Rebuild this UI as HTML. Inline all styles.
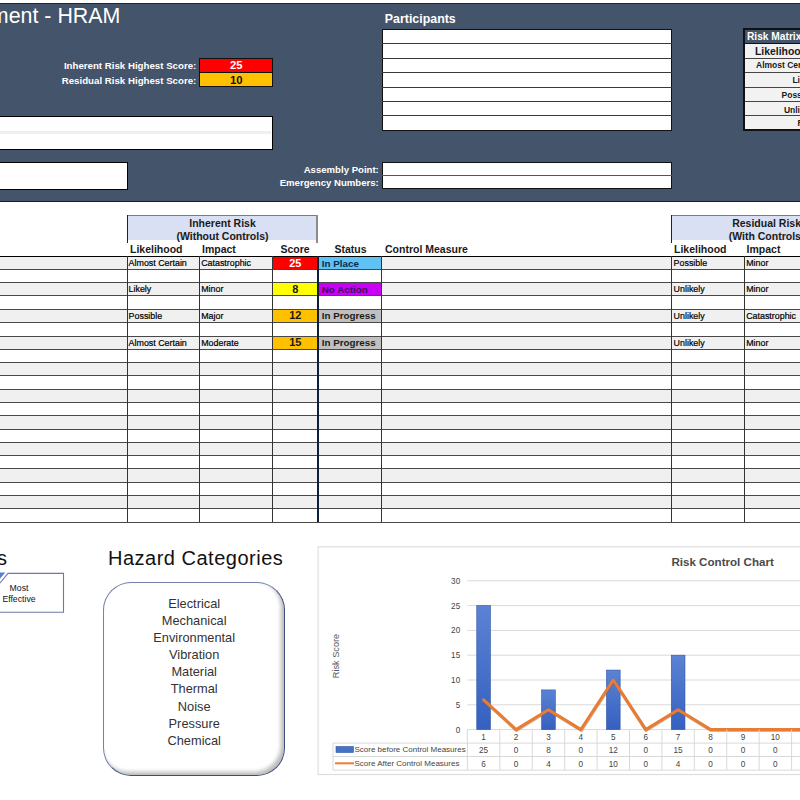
<!DOCTYPE html>
<html><head><meta charset="utf-8"><style>
html,body{margin:0;padding:0;}
body{width:800px;height:800px;overflow:hidden;position:relative;background:#fff;font-family:'Liberation Sans',sans-serif;}
div{font-family:'Liberation Sans',sans-serif;}
</style></head><body>
<div style="position:absolute;left:0px;top:3px;width:800px;height:198px;background:#44546a;border-top:1px solid #1c2838;box-sizing:border-box;"></div>
<div style="position:absolute;left:0px;top:200.5px;width:800px;height:1.6px;background:#0b1f35;"></div>
<div style="position:absolute;right:679.6px;top:5.83px;font-size:21.4px;line-height:21.4px;font-weight:400;color:#fff;white-space:nowrap;">Health &amp; Safety Risk Assessment - HRAM</div>
<div style="position:absolute;right:603.7px;top:61.14px;font-size:9.7px;line-height:9.7px;font-weight:700;color:#fff;white-space:nowrap;">Inherent Risk Highest Score:</div>
<div style="position:absolute;right:603.7px;top:76.14px;font-size:9.7px;line-height:9.7px;font-weight:700;color:#fff;white-space:nowrap;">Residual Risk Highest Score:</div>
<div style="position:absolute;left:199px;top:58px;width:74px;height:14.5px;background:#ff0000;border:1px solid #111;box-sizing:border-box;"></div>
<div style="position:absolute;left:199px;top:72.5px;width:74px;height:14.8px;background:#ffc000;border:1px solid #111;border-top:none;box-sizing:border-box;"></div>
<div style="position:absolute;left:206.3px;width:60px;text-align:center;top:59.52px;font-size:11.3px;line-height:11.3px;font-weight:700;color:#fff;white-space:nowrap;">25</div>
<div style="position:absolute;left:206.3px;width:60px;text-align:center;top:74.62px;font-size:11.3px;line-height:11.3px;font-weight:700;color:#111;white-space:nowrap;">10</div>
<div style="position:absolute;left:-2px;top:115.5px;width:274.5px;height:34px;background:#fff;border:1px solid #000;box-sizing:border-box;"></div>
<div style="position:absolute;left:0px;top:130.5px;width:271px;height:3.5px;background:#efefef;"></div>
<div style="position:absolute;left:-2px;top:162px;width:129.5px;height:27.5px;background:#fff;border:1px solid #000;box-sizing:border-box;"></div>
<div style="position:absolute;left:384.8px;top:12.70px;font-size:12.4px;line-height:12.4px;font-weight:700;color:#fff;white-space:nowrap;">Participants</div>
<div style="position:absolute;left:381.5px;top:28.7px;width:290.5px;height:102.3px;background:#fff;border:1px solid #111;box-sizing:border-box;"></div>
<div style="position:absolute;left:381.5px;top:42.7px;width:290.5px;height:1px;background:#3a3a3a;"></div>
<div style="position:absolute;left:381.5px;top:57.7px;width:290.5px;height:1px;background:#3a3a3a;"></div>
<div style="position:absolute;left:381.5px;top:72.0px;width:290.5px;height:1px;background:#3a3a3a;"></div>
<div style="position:absolute;left:381.5px;top:87.0px;width:290.5px;height:1px;background:#3a3a3a;"></div>
<div style="position:absolute;left:381.5px;top:100.9px;width:290.5px;height:1px;background:#3a3a3a;"></div>
<div style="position:absolute;left:381.5px;top:115.0px;width:290.5px;height:1px;background:#3a3a3a;"></div>
<div style="position:absolute;right:421.2px;top:164.83px;font-size:9.6px;line-height:9.6px;font-weight:700;color:#fff;white-space:nowrap;">Assembly Point:</div>
<div style="position:absolute;right:421.2px;top:178.13px;font-size:9.6px;line-height:9.6px;font-weight:700;color:#fff;white-space:nowrap;">Emergency Numbers:</div>
<div style="position:absolute;left:381.5px;top:162.3px;width:290.5px;height:27px;background:#fff;border:1px solid #111;box-sizing:border-box;"></div>
<div style="position:absolute;left:381.5px;top:175px;width:290.5px;height:1px;background:#555;"></div>
<div style="position:absolute;left:743px;top:28px;width:80px;height:102.5px;background:#f2f2f2;border:2px solid #111;border-right:none;box-sizing:border-box;"></div>
<div style="position:absolute;left:745px;top:30px;width:80px;height:13px;background:#44546a;"></div>
<div style="position:absolute;left:745px;top:42.5px;width:80px;height:1.6px;background:#111;"></div>
<div style="position:absolute;left:747px;top:32.13px;font-size:10.2px;line-height:10.2px;font-weight:700;color:#fff;white-space:nowrap;">Risk Matrix</div>
<div style="position:absolute;left:755px;top:46.56px;font-size:10.4px;line-height:10.4px;font-weight:700;color:#1a1a1a;white-space:nowrap;">Likelihood</div>
<div style="position:absolute;left:745px;top:57.7px;width:80px;height:1.2px;background:#444;"></div>
<div style="position:absolute;left:745px;top:72.0px;width:80px;height:1.2px;background:#444;"></div>
<div style="position:absolute;left:745px;top:86.6px;width:80px;height:1.2px;background:#444;"></div>
<div style="position:absolute;left:745px;top:100.6px;width:80px;height:1.2px;background:#444;"></div>
<div style="position:absolute;left:745px;top:114.8px;width:80px;height:1.2px;background:#444;"></div>
<div style="position:absolute;right:-16.5px;top:61.44px;font-size:8.5px;line-height:8.5px;font-weight:700;color:#1a1a1a;white-space:nowrap;">Almost Certain</div>
<div style="position:absolute;right:-16.5px;top:76.34px;font-size:8.5px;line-height:8.5px;font-weight:700;color:#1a1a1a;white-space:nowrap;">Likely</div>
<div style="position:absolute;right:-16.5px;top:91.24px;font-size:8.5px;line-height:8.5px;font-weight:700;color:#1a1a1a;white-space:nowrap;">Possible</div>
<div style="position:absolute;right:-16.5px;top:105.74px;font-size:8.5px;line-height:8.5px;font-weight:700;color:#1a1a1a;white-space:nowrap;">Unlikely</div>
<div style="position:absolute;right:-16.5px;top:119.44px;font-size:8.5px;line-height:8.5px;font-weight:700;color:#1a1a1a;white-space:nowrap;">Rare</div>
<div style="position:absolute;left:0px;top:256.3px;width:800px;height:12.899999999999977px;background:#f0f0f0;"></div>
<div style="position:absolute;left:0px;top:282.3px;width:800px;height:13.5px;background:#f0f0f0;"></div>
<div style="position:absolute;left:0px;top:309.2px;width:800px;height:13.5px;background:#f0f0f0;"></div>
<div style="position:absolute;left:0px;top:336.1px;width:800px;height:13.0px;background:#f0f0f0;"></div>
<div style="position:absolute;left:0px;top:362.5px;width:800px;height:13.399999999999977px;background:#f0f0f0;"></div>
<div style="position:absolute;left:0px;top:389.1px;width:800px;height:13.399999999999977px;background:#f0f0f0;"></div>
<div style="position:absolute;left:0px;top:415.7px;width:800px;height:13.300000000000011px;background:#f0f0f0;"></div>
<div style="position:absolute;left:0px;top:442.3px;width:800px;height:13.300000000000011px;background:#f0f0f0;"></div>
<div style="position:absolute;left:0px;top:468.9px;width:800px;height:13.300000000000011px;background:#f0f0f0;"></div>
<div style="position:absolute;left:0px;top:495.5px;width:800px;height:13.300000000000011px;background:#f0f0f0;"></div>
<div style="position:absolute;left:127.5px;top:215.2px;width:190px;height:25.3px;background:#d9e0f3;border-top:1.6px solid #7c7c80;box-sizing:border-box;"></div>
<div style="position:absolute;left:316.4px;top:215.2px;width:1.5px;height:27.5px;background:#8a8a90;"></div>
<div style="position:absolute;left:127px;top:215px;width:1.2px;height:28px;background:#222;"></div>
<div style="position:absolute;left:132.5px;width:180px;text-align:center;top:217.58px;font-size:10.5px;line-height:10.5px;font-weight:700;color:#1a1a1a;white-space:nowrap;">Inherent Risk</div>
<div style="position:absolute;left:132.5px;width:180px;text-align:center;top:230.78px;font-size:10.5px;line-height:10.5px;font-weight:700;color:#1a1a1a;white-space:nowrap;">(Without Controls)</div>
<div style="position:absolute;left:671.6px;top:215.2px;width:190px;height:25.3px;background:#d9e0f3;border-top:1.6px solid #7c7c80;box-sizing:border-box;"></div>
<div style="position:absolute;left:671.1px;top:215px;width:1.2px;height:28px;background:#222;"></div>
<div style="position:absolute;left:676.6px;width:180px;text-align:center;top:217.58px;font-size:10.5px;line-height:10.5px;font-weight:700;color:#1a1a1a;white-space:nowrap;">Residual Risk</div>
<div style="position:absolute;left:676.6px;width:180px;text-align:center;top:230.78px;font-size:10.5px;line-height:10.5px;font-weight:700;color:#1a1a1a;white-space:nowrap;">(With Controls)</div>
<div style="position:absolute;left:130px;top:243.58px;font-size:10.5px;line-height:10.5px;font-weight:700;color:#1a1a1a;white-space:nowrap;">Likelihood</div>
<div style="position:absolute;left:202px;top:243.58px;font-size:10.5px;line-height:10.5px;font-weight:700;color:#1a1a1a;white-space:nowrap;">Impact</div>
<div style="position:absolute;left:265.0px;width:60px;text-align:center;top:243.58px;font-size:10.5px;line-height:10.5px;font-weight:700;color:#1a1a1a;white-space:nowrap;">Score</div>
<div style="position:absolute;left:320.5px;width:60px;text-align:center;top:243.58px;font-size:10.5px;line-height:10.5px;font-weight:700;color:#1a1a1a;white-space:nowrap;">Status</div>
<div style="position:absolute;left:385px;top:243.58px;font-size:10.5px;line-height:10.5px;font-weight:700;color:#1a1a1a;white-space:nowrap;">Control Measure</div>
<div style="position:absolute;left:674px;top:243.58px;font-size:10.5px;line-height:10.5px;font-weight:700;color:#1a1a1a;white-space:nowrap;">Likelihood</div>
<div style="position:absolute;left:746.6px;top:243.58px;font-size:10.5px;line-height:10.5px;font-weight:700;color:#1a1a1a;white-space:nowrap;">Impact</div>
<div style="position:absolute;left:272.3px;top:256.3px;width:45.5px;height:12.899999999999977px;background:#ff0000;"></div>
<div style="position:absolute;left:317.8px;top:256.3px;width:63.69999999999999px;height:12.899999999999977px;background:#5ec2f2;"></div>
<div style="position:absolute;left:128.6px;top:259.31px;font-size:8.9px;line-height:8.9px;font-weight:400;color:#000;white-space:nowrap;-webkit-text-stroke:0.2px #000;">Almost Certain</div>
<div style="position:absolute;left:201.2px;top:259.31px;font-size:8.9px;line-height:8.9px;font-weight:400;color:#000;white-space:nowrap;-webkit-text-stroke:0.2px #000;">Catastrophic</div>
<div style="position:absolute;left:275.3px;width:40px;text-align:center;top:257.56px;font-size:11px;line-height:11px;font-weight:700;color:#fff;white-space:nowrap;">25</div>
<div style="position:absolute;left:321.8px;top:258.56px;font-size:9.8px;line-height:9.8px;font-weight:700;color:#0f2a4a;white-space:nowrap;">In Place</div>
<div style="position:absolute;left:673.6px;top:259.31px;font-size:8.9px;line-height:8.9px;font-weight:400;color:#000;white-space:nowrap;-webkit-text-stroke:0.2px #000;">Possible</div>
<div style="position:absolute;left:746.2px;top:259.31px;font-size:8.9px;line-height:8.9px;font-weight:400;color:#000;white-space:nowrap;-webkit-text-stroke:0.2px #000;">Minor</div>
<div style="position:absolute;left:272.3px;top:282.3px;width:45.5px;height:13.5px;background:#ffff00;"></div>
<div style="position:absolute;left:317.8px;top:282.3px;width:63.69999999999999px;height:13.5px;background:#c800f5;"></div>
<div style="position:absolute;left:128.6px;top:285.31px;font-size:8.9px;line-height:8.9px;font-weight:400;color:#000;white-space:nowrap;-webkit-text-stroke:0.2px #000;">Likely</div>
<div style="position:absolute;left:201.2px;top:285.31px;font-size:8.9px;line-height:8.9px;font-weight:400;color:#000;white-space:nowrap;-webkit-text-stroke:0.2px #000;">Minor</div>
<div style="position:absolute;left:275.3px;width:40px;text-align:center;top:283.56px;font-size:11px;line-height:11px;font-weight:700;color:#1a1a1a;white-space:nowrap;">8</div>
<div style="position:absolute;left:321.8px;top:284.56px;font-size:9.8px;line-height:9.8px;font-weight:700;color:#3b0a58;white-space:nowrap;">No Action</div>
<div style="position:absolute;left:673.6px;top:285.31px;font-size:8.9px;line-height:8.9px;font-weight:400;color:#000;white-space:nowrap;-webkit-text-stroke:0.2px #000;">Unlikely</div>
<div style="position:absolute;left:746.2px;top:285.31px;font-size:8.9px;line-height:8.9px;font-weight:400;color:#000;white-space:nowrap;-webkit-text-stroke:0.2px #000;">Minor</div>
<div style="position:absolute;left:272.3px;top:309.2px;width:45.5px;height:13.5px;background:#ffc000;"></div>
<div style="position:absolute;left:317.8px;top:309.2px;width:63.69999999999999px;height:13.5px;background:#c0c0c0;"></div>
<div style="position:absolute;left:128.6px;top:312.21px;font-size:8.9px;line-height:8.9px;font-weight:400;color:#000;white-space:nowrap;-webkit-text-stroke:0.2px #000;">Possible</div>
<div style="position:absolute;left:201.2px;top:312.21px;font-size:8.9px;line-height:8.9px;font-weight:400;color:#000;white-space:nowrap;-webkit-text-stroke:0.2px #000;">Major</div>
<div style="position:absolute;left:275.3px;width:40px;text-align:center;top:310.46px;font-size:11px;line-height:11px;font-weight:700;color:#1a1a1a;white-space:nowrap;">12</div>
<div style="position:absolute;left:321.8px;top:311.46px;font-size:9.8px;line-height:9.8px;font-weight:700;color:#1a1a1a;white-space:nowrap;">In Progress</div>
<div style="position:absolute;left:673.6px;top:312.21px;font-size:8.9px;line-height:8.9px;font-weight:400;color:#000;white-space:nowrap;-webkit-text-stroke:0.2px #000;">Unlikely</div>
<div style="position:absolute;left:746.2px;top:312.21px;font-size:8.9px;line-height:8.9px;font-weight:400;color:#000;white-space:nowrap;-webkit-text-stroke:0.2px #000;">Catastrophic</div>
<div style="position:absolute;left:272.3px;top:336.1px;width:45.5px;height:13.0px;background:#ffc000;"></div>
<div style="position:absolute;left:317.8px;top:336.1px;width:63.69999999999999px;height:13.0px;background:#c0c0c0;"></div>
<div style="position:absolute;left:128.6px;top:339.11px;font-size:8.9px;line-height:8.9px;font-weight:400;color:#000;white-space:nowrap;-webkit-text-stroke:0.2px #000;">Almost Certain</div>
<div style="position:absolute;left:201.2px;top:339.11px;font-size:8.9px;line-height:8.9px;font-weight:400;color:#000;white-space:nowrap;-webkit-text-stroke:0.2px #000;">Moderate</div>
<div style="position:absolute;left:275.3px;width:40px;text-align:center;top:337.36px;font-size:11px;line-height:11px;font-weight:700;color:#1a1a1a;white-space:nowrap;">15</div>
<div style="position:absolute;left:321.8px;top:338.36px;font-size:9.8px;line-height:9.8px;font-weight:700;color:#1a1a1a;white-space:nowrap;">In Progress</div>
<div style="position:absolute;left:673.6px;top:339.11px;font-size:8.9px;line-height:8.9px;font-weight:400;color:#000;white-space:nowrap;-webkit-text-stroke:0.2px #000;">Unlikely</div>
<div style="position:absolute;left:746.2px;top:339.11px;font-size:8.9px;line-height:8.9px;font-weight:400;color:#000;white-space:nowrap;-webkit-text-stroke:0.2px #000;">Minor</div>
<div style="position:absolute;left:0px;top:268.7px;width:800px;height:1px;background:#484848;"></div>
<div style="position:absolute;left:0px;top:281.8px;width:800px;height:1px;background:#484848;"></div>
<div style="position:absolute;left:0px;top:295.3px;width:800px;height:1px;background:#484848;"></div>
<div style="position:absolute;left:0px;top:308.7px;width:800px;height:1px;background:#484848;"></div>
<div style="position:absolute;left:0px;top:322.2px;width:800px;height:1px;background:#484848;"></div>
<div style="position:absolute;left:0px;top:335.6px;width:800px;height:1px;background:#484848;"></div>
<div style="position:absolute;left:0px;top:348.6px;width:800px;height:1px;background:#484848;"></div>
<div style="position:absolute;left:0px;top:362.0px;width:800px;height:1px;background:#484848;"></div>
<div style="position:absolute;left:0px;top:375.4px;width:800px;height:1px;background:#484848;"></div>
<div style="position:absolute;left:0px;top:388.6px;width:800px;height:1px;background:#484848;"></div>
<div style="position:absolute;left:0px;top:402.0px;width:800px;height:1px;background:#484848;"></div>
<div style="position:absolute;left:0px;top:415.2px;width:800px;height:1px;background:#484848;"></div>
<div style="position:absolute;left:0px;top:428.5px;width:800px;height:1px;background:#484848;"></div>
<div style="position:absolute;left:0px;top:441.8px;width:800px;height:1px;background:#484848;"></div>
<div style="position:absolute;left:0px;top:455.1px;width:800px;height:1px;background:#484848;"></div>
<div style="position:absolute;left:0px;top:468.4px;width:800px;height:1px;background:#484848;"></div>
<div style="position:absolute;left:0px;top:481.7px;width:800px;height:1px;background:#484848;"></div>
<div style="position:absolute;left:0px;top:495.0px;width:800px;height:1px;background:#484848;"></div>
<div style="position:absolute;left:0px;top:508.3px;width:800px;height:1px;background:#484848;"></div>
<div style="position:absolute;left:0px;top:521.6px;width:800px;height:1px;background:#484848;"></div>
<div style="position:absolute;left:0px;top:255.6px;width:800px;height:1.6px;background:#000;"></div>
<div style="position:absolute;left:127.0px;top:256.3px;width:1px;height:265.8px;background:#333;"></div>
<div style="position:absolute;left:199.1px;top:256.3px;width:1px;height:265.8px;background:#333;"></div>
<div style="position:absolute;left:271.8px;top:256.3px;width:1px;height:265.8px;background:#333;"></div>
<div style="position:absolute;left:316.8px;top:256.3px;width:2px;height:265.8px;background:#0d1f3a;"></div>
<div style="position:absolute;left:381.0px;top:256.3px;width:1px;height:265.8px;background:#333;"></div>
<div style="position:absolute;left:671.1px;top:256.3px;width:1px;height:265.8px;background:#333;"></div>
<div style="position:absolute;left:744.0px;top:256.3px;width:1px;height:265.8px;background:#333;"></div>
<div style="position:absolute;right:792.4px;top:548.14px;font-size:20px;line-height:20px;font-weight:400;color:#111;white-space:nowrap;letter-spacing:0.5px;">Hierarchy of Controls</div>
<svg style="position:absolute;left:0;top:0" width="800" height="800" viewBox="0 0 800 800">
<polygon points="8,573.4 63.5,573.4 63.5,612.2 -5,612.2 -5,589" fill="#fff" stroke="#6d78a8" stroke-width="1.1"/>
<polygon points="-5,572.6 5.2,572.6 -5,584.8" fill="#5a7fd0"/>
</svg>
<div style="position:absolute;left:-11.0px;width:60px;text-align:center;top:584.07px;font-size:8.7px;line-height:8.7px;font-weight:400;color:#111;white-space:nowrap;">Most</div>
<div style="position:absolute;left:-11.0px;width:60px;text-align:center;top:594.57px;font-size:8.7px;line-height:8.7px;font-weight:400;color:#111;white-space:nowrap;">Effective</div>
<div style="position:absolute;left:108px;top:548.14px;font-size:20px;line-height:20px;font-weight:400;color:#111;white-space:nowrap;letter-spacing:0.5px;">Hazard Categories</div>
<div style="position:absolute;left:102.9px;top:582.3px;width:182.4px;height:193.5px;border:1.2px solid #7680a8;border-right-color:#3b4d7a;border-bottom-color:#3b4d7a;border-radius:28px;box-sizing:border-box;background:#fff;box-shadow:inset -3px -3px 4px rgba(0,0,0,0.28);"></div>
<div style="position:absolute;left:114.19999999999999px;width:160px;text-align:center;top:597.97px;font-size:12.8px;line-height:12.8px;font-weight:400;color:#333;white-space:nowrap;">Electrical</div>
<div style="position:absolute;left:114.19999999999999px;width:160px;text-align:center;top:615.07px;font-size:12.8px;line-height:12.8px;font-weight:400;color:#333;white-space:nowrap;">Mechanical</div>
<div style="position:absolute;left:114.19999999999999px;width:160px;text-align:center;top:632.17px;font-size:12.8px;line-height:12.8px;font-weight:400;color:#333;white-space:nowrap;">Environmental</div>
<div style="position:absolute;left:114.19999999999999px;width:160px;text-align:center;top:649.27px;font-size:12.8px;line-height:12.8px;font-weight:400;color:#333;white-space:nowrap;">Vibration</div>
<div style="position:absolute;left:114.19999999999999px;width:160px;text-align:center;top:666.37px;font-size:12.8px;line-height:12.8px;font-weight:400;color:#333;white-space:nowrap;">Material</div>
<div style="position:absolute;left:114.19999999999999px;width:160px;text-align:center;top:683.47px;font-size:12.8px;line-height:12.8px;font-weight:400;color:#333;white-space:nowrap;">Thermal</div>
<div style="position:absolute;left:114.19999999999999px;width:160px;text-align:center;top:700.57px;font-size:12.8px;line-height:12.8px;font-weight:400;color:#333;white-space:nowrap;">Noise</div>
<div style="position:absolute;left:114.19999999999999px;width:160px;text-align:center;top:717.67px;font-size:12.8px;line-height:12.8px;font-weight:400;color:#333;white-space:nowrap;">Pressure</div>
<div style="position:absolute;left:114.19999999999999px;width:160px;text-align:center;top:734.77px;font-size:12.8px;line-height:12.8px;font-weight:400;color:#333;white-space:nowrap;">Chemical</div>
<svg style="position:absolute;left:0;top:0" width="800" height="800" viewBox="0 0 800 800">
<rect x="318.1" y="546.8" width="600" height="227.8" fill="#fff" stroke="#d9d9d9" stroke-width="1"/>
<line x1="467.4" y1="729.60" x2="820" y2="729.60" stroke="#d9d9d9" stroke-width="1"/>
<line x1="467.4" y1="704.80" x2="820" y2="704.80" stroke="#d9d9d9" stroke-width="1"/>
<line x1="467.4" y1="680.00" x2="820" y2="680.00" stroke="#d9d9d9" stroke-width="1"/>
<line x1="467.4" y1="655.20" x2="820" y2="655.20" stroke="#d9d9d9" stroke-width="1"/>
<line x1="467.4" y1="630.40" x2="820" y2="630.40" stroke="#d9d9d9" stroke-width="1"/>
<line x1="467.4" y1="605.60" x2="820" y2="605.60" stroke="#d9d9d9" stroke-width="1"/>
<line x1="467.4" y1="580.80" x2="820" y2="580.80" stroke="#d9d9d9" stroke-width="1"/>
<defs><linearGradient id="bg" x1="0" y1="0" x2="0" y2="1"><stop offset="0" stop-color="#5b82d4"/><stop offset="1" stop-color="#3560bf"/></linearGradient></defs>
<rect x="476.76" y="605.60" width="13.7" height="124.00" fill="url(#bg)" stroke="#2f55a8" stroke-width="0.6"/>
<rect x="541.60" y="689.92" width="13.7" height="39.68" fill="url(#bg)" stroke="#2f55a8" stroke-width="0.6"/>
<rect x="606.44" y="670.08" width="13.7" height="59.52" fill="url(#bg)" stroke="#2f55a8" stroke-width="0.6"/>
<rect x="671.28" y="655.20" width="13.7" height="74.40" fill="url(#bg)" stroke="#2f55a8" stroke-width="0.6"/>
<polyline points="483.61,699.84 516.03,729.60 548.45,709.76 580.87,729.60 613.29,680.00 645.71,729.60 678.13,709.76 710.55,729.60 742.97,729.60 775.39,729.60 807.81,729.60" fill="none" stroke="#9a5a30" stroke-opacity="0.45" stroke-width="3.4" stroke-linejoin="round" stroke-linecap="round" transform="translate(0.4,0.6)"/>
<polyline points="483.61,699.84 516.03,729.60 548.45,709.76 580.87,729.60 613.29,680.00 645.71,729.60 678.13,709.76 710.55,729.60 742.97,729.60 775.39,729.60 807.81,729.60" fill="none" stroke="#e87c34" stroke-width="3" stroke-linejoin="round" stroke-linecap="round"/>
<line x1="333" y1="743.1" x2="820" y2="743.1" stroke="#d9d9d9" stroke-width="1"/>
<line x1="333" y1="756.5" x2="820" y2="756.5" stroke="#d9d9d9" stroke-width="1"/>
<line x1="333" y1="770.1" x2="820" y2="770.1" stroke="#d9d9d9" stroke-width="1"/>
<line x1="333" y1="743.1" x2="333" y2="770.1" stroke="#d9d9d9" stroke-width="1"/>
<line x1="467.40" y1="729.6" x2="467.40" y2="770.1" stroke="#d9d9d9" stroke-width="1"/>
<line x1="499.82" y1="729.6" x2="499.82" y2="770.1" stroke="#d9d9d9" stroke-width="1"/>
<line x1="532.24" y1="729.6" x2="532.24" y2="770.1" stroke="#d9d9d9" stroke-width="1"/>
<line x1="564.66" y1="729.6" x2="564.66" y2="770.1" stroke="#d9d9d9" stroke-width="1"/>
<line x1="597.08" y1="729.6" x2="597.08" y2="770.1" stroke="#d9d9d9" stroke-width="1"/>
<line x1="629.50" y1="729.6" x2="629.50" y2="770.1" stroke="#d9d9d9" stroke-width="1"/>
<line x1="661.92" y1="729.6" x2="661.92" y2="770.1" stroke="#d9d9d9" stroke-width="1"/>
<line x1="694.34" y1="729.6" x2="694.34" y2="770.1" stroke="#d9d9d9" stroke-width="1"/>
<line x1="726.76" y1="729.6" x2="726.76" y2="770.1" stroke="#d9d9d9" stroke-width="1"/>
<line x1="759.18" y1="729.6" x2="759.18" y2="770.1" stroke="#d9d9d9" stroke-width="1"/>
<line x1="791.60" y1="729.6" x2="791.60" y2="770.1" stroke="#d9d9d9" stroke-width="1"/>
<line x1="824.02" y1="729.6" x2="824.02" y2="770.1" stroke="#d9d9d9" stroke-width="1"/>
<rect x="336" y="746.5" width="17.5" height="6" fill="#4472c4" stroke="#2f55a8" stroke-width="0.6"/>
<line x1="335" y1="763.3" x2="354" y2="763.3" stroke="#ed7d31" stroke-width="2"/>
</svg>
<div style="position:absolute;left:671.4px;top:556.37px;font-size:11.6px;line-height:11.6px;font-weight:700;color:#4a4a4a;white-space:nowrap;">Risk Control Chart</div>
<div style="position:absolute;right:339.8px;top:726.59px;font-size:8.2px;line-height:8.2px;font-weight:400;color:#444;white-space:nowrap;">0</div>
<div style="position:absolute;right:339.8px;top:701.79px;font-size:8.2px;line-height:8.2px;font-weight:400;color:#444;white-space:nowrap;">5</div>
<div style="position:absolute;right:339.8px;top:676.99px;font-size:8.2px;line-height:8.2px;font-weight:400;color:#444;white-space:nowrap;">10</div>
<div style="position:absolute;right:339.8px;top:652.19px;font-size:8.2px;line-height:8.2px;font-weight:400;color:#444;white-space:nowrap;">15</div>
<div style="position:absolute;right:339.8px;top:627.39px;font-size:8.2px;line-height:8.2px;font-weight:400;color:#444;white-space:nowrap;">20</div>
<div style="position:absolute;right:339.8px;top:602.59px;font-size:8.2px;line-height:8.2px;font-weight:400;color:#444;white-space:nowrap;">25</div>
<div style="position:absolute;right:339.8px;top:577.79px;font-size:8.2px;line-height:8.2px;font-weight:400;color:#444;white-space:nowrap;">30</div>
<div style="position:absolute;left:468.60999999999996px;width:30px;text-align:center;top:733.59px;font-size:8.2px;line-height:8.2px;font-weight:400;color:#444;white-space:nowrap;">1</div>
<div style="position:absolute;left:468.60999999999996px;width:30px;text-align:center;top:746.59px;font-size:8.2px;line-height:8.2px;font-weight:400;color:#444;white-space:nowrap;">25</div>
<div style="position:absolute;left:468.60999999999996px;width:30px;text-align:center;top:761.09px;font-size:8.2px;line-height:8.2px;font-weight:400;color:#444;white-space:nowrap;">6</div>
<div style="position:absolute;left:501.03px;width:30px;text-align:center;top:733.59px;font-size:8.2px;line-height:8.2px;font-weight:400;color:#444;white-space:nowrap;">2</div>
<div style="position:absolute;left:501.03px;width:30px;text-align:center;top:746.59px;font-size:8.2px;line-height:8.2px;font-weight:400;color:#444;white-space:nowrap;">0</div>
<div style="position:absolute;left:501.03px;width:30px;text-align:center;top:761.09px;font-size:8.2px;line-height:8.2px;font-weight:400;color:#444;white-space:nowrap;">0</div>
<div style="position:absolute;left:533.45px;width:30px;text-align:center;top:733.59px;font-size:8.2px;line-height:8.2px;font-weight:400;color:#444;white-space:nowrap;">3</div>
<div style="position:absolute;left:533.45px;width:30px;text-align:center;top:746.59px;font-size:8.2px;line-height:8.2px;font-weight:400;color:#444;white-space:nowrap;">8</div>
<div style="position:absolute;left:533.45px;width:30px;text-align:center;top:761.09px;font-size:8.2px;line-height:8.2px;font-weight:400;color:#444;white-space:nowrap;">4</div>
<div style="position:absolute;left:565.87px;width:30px;text-align:center;top:733.59px;font-size:8.2px;line-height:8.2px;font-weight:400;color:#444;white-space:nowrap;">4</div>
<div style="position:absolute;left:565.87px;width:30px;text-align:center;top:746.59px;font-size:8.2px;line-height:8.2px;font-weight:400;color:#444;white-space:nowrap;">0</div>
<div style="position:absolute;left:565.87px;width:30px;text-align:center;top:761.09px;font-size:8.2px;line-height:8.2px;font-weight:400;color:#444;white-space:nowrap;">0</div>
<div style="position:absolute;left:598.29px;width:30px;text-align:center;top:733.59px;font-size:8.2px;line-height:8.2px;font-weight:400;color:#444;white-space:nowrap;">5</div>
<div style="position:absolute;left:598.29px;width:30px;text-align:center;top:746.59px;font-size:8.2px;line-height:8.2px;font-weight:400;color:#444;white-space:nowrap;">12</div>
<div style="position:absolute;left:598.29px;width:30px;text-align:center;top:761.09px;font-size:8.2px;line-height:8.2px;font-weight:400;color:#444;white-space:nowrap;">10</div>
<div style="position:absolute;left:630.71px;width:30px;text-align:center;top:733.59px;font-size:8.2px;line-height:8.2px;font-weight:400;color:#444;white-space:nowrap;">6</div>
<div style="position:absolute;left:630.71px;width:30px;text-align:center;top:746.59px;font-size:8.2px;line-height:8.2px;font-weight:400;color:#444;white-space:nowrap;">0</div>
<div style="position:absolute;left:630.71px;width:30px;text-align:center;top:761.09px;font-size:8.2px;line-height:8.2px;font-weight:400;color:#444;white-space:nowrap;">0</div>
<div style="position:absolute;left:663.13px;width:30px;text-align:center;top:733.59px;font-size:8.2px;line-height:8.2px;font-weight:400;color:#444;white-space:nowrap;">7</div>
<div style="position:absolute;left:663.13px;width:30px;text-align:center;top:746.59px;font-size:8.2px;line-height:8.2px;font-weight:400;color:#444;white-space:nowrap;">15</div>
<div style="position:absolute;left:663.13px;width:30px;text-align:center;top:761.09px;font-size:8.2px;line-height:8.2px;font-weight:400;color:#444;white-space:nowrap;">4</div>
<div style="position:absolute;left:695.55px;width:30px;text-align:center;top:733.59px;font-size:8.2px;line-height:8.2px;font-weight:400;color:#444;white-space:nowrap;">8</div>
<div style="position:absolute;left:695.55px;width:30px;text-align:center;top:746.59px;font-size:8.2px;line-height:8.2px;font-weight:400;color:#444;white-space:nowrap;">0</div>
<div style="position:absolute;left:695.55px;width:30px;text-align:center;top:761.09px;font-size:8.2px;line-height:8.2px;font-weight:400;color:#444;white-space:nowrap;">0</div>
<div style="position:absolute;left:727.97px;width:30px;text-align:center;top:733.59px;font-size:8.2px;line-height:8.2px;font-weight:400;color:#444;white-space:nowrap;">9</div>
<div style="position:absolute;left:727.97px;width:30px;text-align:center;top:746.59px;font-size:8.2px;line-height:8.2px;font-weight:400;color:#444;white-space:nowrap;">0</div>
<div style="position:absolute;left:727.97px;width:30px;text-align:center;top:761.09px;font-size:8.2px;line-height:8.2px;font-weight:400;color:#444;white-space:nowrap;">0</div>
<div style="position:absolute;left:760.39px;width:30px;text-align:center;top:733.59px;font-size:8.2px;line-height:8.2px;font-weight:400;color:#444;white-space:nowrap;">10</div>
<div style="position:absolute;left:760.39px;width:30px;text-align:center;top:746.59px;font-size:8.2px;line-height:8.2px;font-weight:400;color:#444;white-space:nowrap;">0</div>
<div style="position:absolute;left:760.39px;width:30px;text-align:center;top:761.09px;font-size:8.2px;line-height:8.2px;font-weight:400;color:#444;white-space:nowrap;">0</div>
<div style="position:absolute;left:792.81px;width:30px;text-align:center;top:733.59px;font-size:8.2px;line-height:8.2px;font-weight:400;color:#444;white-space:nowrap;">11</div>
<div style="position:absolute;left:792.81px;width:30px;text-align:center;top:746.59px;font-size:8.2px;line-height:8.2px;font-weight:400;color:#444;white-space:nowrap;">0</div>
<div style="position:absolute;left:792.81px;width:30px;text-align:center;top:761.09px;font-size:8.2px;line-height:8.2px;font-weight:400;color:#444;white-space:nowrap;">0</div>
<div style="position:absolute;left:354.5px;top:746.16px;font-size:8px;line-height:8px;font-weight:400;color:#444;white-space:nowrap;">Score before Control Measures</div>
<div style="position:absolute;left:354.5px;top:759.76px;font-size:8px;line-height:8px;font-weight:400;color:#444;white-space:nowrap;">Score After Control Measures</div>
<div style="position:absolute;left:337.3px;top:656px;width:0;height:0;"><div style="position:absolute;left:0;top:0;transform:translate(-50%,-50%) rotate(-90deg);font-size:9.2px;line-height:9.2px;color:#595959;white-space:nowrap;">Risk Score</div></div>
</body></html>
